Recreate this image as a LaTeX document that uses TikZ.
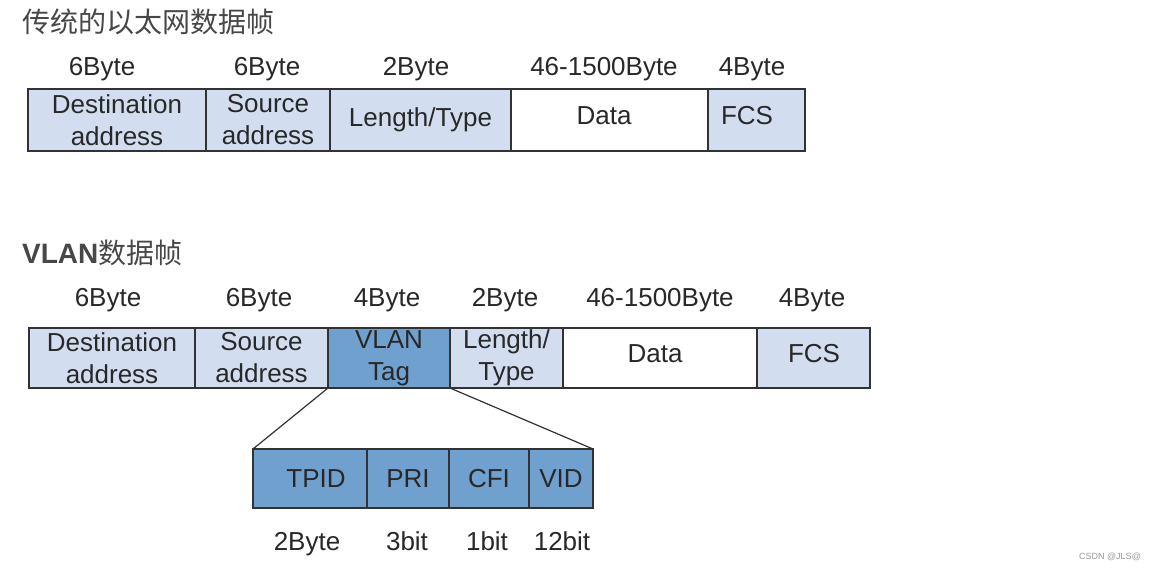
\documentclass[tikz,border=0pt]{standalone}
\usepackage{fontspec}
\setmainfont{Liberation Sans}
\newfontfamily\cjk{Noto Sans CJK SC}
\definecolor{lightc}{RGB}{210,222,240}
\definecolor{darkc}{RGB}{112,160,206}
\definecolor{framec}{RGB}{50,50,50}
\definecolor{txtc}{RGB}{40,40,40}
\begin{document}
\begin{tikzpicture}[x=1pt,y=-1pt,
  cell/.style={draw=framec, line width=1.8pt, outer sep=0pt, inner sep=0pt,
    anchor=north west, align=center, text=txtc,
    font=\fontsize{26}{32}\selectfont},
  light/.style={cell, fill=lightc},
  white/.style={cell, fill=white},
  dark/.style={cell, fill=darkc},
  lbl/.style={text=txtc, inner sep=0pt, font=\fontsize{26}{32}\selectfont},
  size/.style={text=txtc, inner sep=0pt, anchor=base, font=\fontsize{26}{30}\selectfont},
  title/.style={anchor=west, inner sep=0pt, text=black!72, font=\fontsize{28}{32}\selectfont},
  zoomline/.style={draw=framec, line width=1.2pt}]
\path[use as bounding box, fill=white] (0,0) rectangle (1149,571);

% ---- traditional Ethernet frame
\node[title] (t1) at (22,22) {\cjk 传统的以太网数据帧};
\node[size] (s1) at (102,75) {6Byte};
\node[size] (s2) at (267,75) {6Byte};
\node[size] (s3) at (416,75) {2Byte};
\node[size] (s4) at (604,75) {46-1500Byte};
\node[size] (s5) at (752,75) {4Byte};
\node[light, minimum width=178, minimum height=62] (a1) at (28,89) {Destination\\address};
\node[light, minimum width=124, minimum height=62] (a2) at (206,89) {Source\\address};
\node[light, minimum width=181, minimum height=62] (a3) at (330,89) {Length/Type};
\node[white, minimum width=197, minimum height=62] (a4) at (511,89) {};
\node[light, minimum width=97, minimum height=62] (a5) at (708,89) {};
\node[lbl] (a4t) at (604,116) {Data};
\node[lbl] (a5t) at (747,116) {FCS};

% ---- VLAN frame
\node[title] (t2) at (22,253) {\textbf{VLAN}\cjk 数据帧};
\node[size] (v1) at (108,306) {6Byte};
\node[size] (v2) at (259,306) {6Byte};
\node[size] (v3) at (387,306) {4Byte};
\node[size] (v4) at (505,306) {2Byte};
\node[size] (v5) at (660,306) {46-1500Byte};
\node[size] (v6) at (812,306) {4Byte};
\node[light, minimum width=166, minimum height=60] (b1) at (29,328) {Destination\\address};
\node[light, minimum width=133, minimum height=60] (b2) at (195,328) {Source\\address};
\node[dark, minimum width=122, minimum height=60] (vtag) at (328,328) {VLAN\\Tag};
\node[light, minimum width=113, minimum height=60] (b4) at (450,328) {Length/\\Type};
\node[white, minimum width=194, minimum height=60] (b5) at (563,328) {};
\node[light, minimum width=113, minimum height=60] (b6) at (757,328) {};
\node[lbl] (b5t) at (655,354) {Data};
\node[lbl] (b6t) at (814,354) {FCS};

% ---- VLAN tag detail
\node[dark, minimum width=114, minimum height=59] (tpid) at (253,449) {\hspace{12pt}TPID};
\node[dark, minimum width=82, minimum height=59] (pri) at (367,449) {PRI};
\node[dark, minimum width=80, minimum height=59] (cfi) at (449,449) {CFI};
\node[dark, minimum width=64, minimum height=59] (vid) at (529,449) {VID};
\draw[zoomline] (vtag.south west) -- (tpid.north west);
\draw[zoomline] (vtag.south east) -- (vid.north east);
\node[size] (w1) at (307,550) {2Byte};
\node[size] (w2) at (407,550) {3bit};
\node[size] (w3) at (487,550) {1bit};
\node[size] (w4) at (562,550) {12bit};

\node[text=black!40, inner sep=0pt, font=\fontsize{9}{9}\selectfont] (wm) at (1110,557) {CSDN @JLS@};
\end{tikzpicture}
\end{document}
